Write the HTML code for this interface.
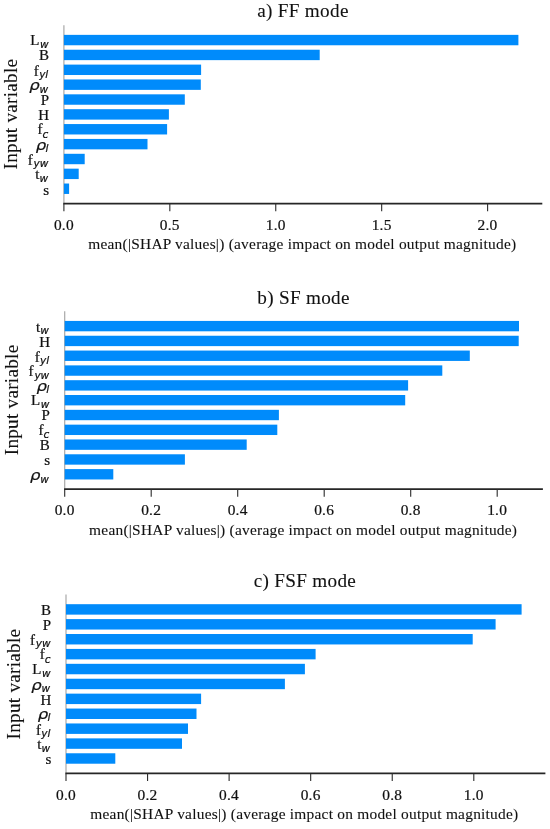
<!DOCTYPE html>
<html lang="en">
<head>
<meta charset="utf-8">
<title>SHAP feature importance</title>
<style>
html,body{margin:0;padding:0;background:#fff;}
svg{display:block;}
.s{font-family:"Liberation Serif", serif;fill:#111;stroke:#111;stroke-width:0.22px;}
.d{font-family:"DejaVu Sans", sans-serif;font-style:italic;fill:#111;stroke:#111;stroke-width:0.22px;}
.xl{stroke-width:0.1px;}
</style>
</head>
<body>
<svg width="550" height="829" viewBox="0 0 550 829">
<rect x="0" y="0" width="550" height="829" fill="#ffffff"/>
<g>
<text class="s xl" x="257.15" y="17.2" font-size="19.2" textLength="91.3" lengthAdjust="spacing">a) FF mode</text>
<line x1="63.90" y1="25.20" x2="63.90" y2="203.60" stroke="#a8a8a8" stroke-width="1.2"/>
<rect x="63.90" y="34.86" width="454.50" height="10.41" fill="#008bfb"/>
<text class="s" x="39.41" y="45.17" text-anchor="end" font-size="15">L</text>
<text class="d" x="48.60" y="48.27" text-anchor="end" font-size="10.5">w</text>
<rect x="63.90" y="49.73" width="255.80" height="10.41" fill="#008bfb"/>
<text class="s" x="48.90" y="60.33" text-anchor="end" font-size="15">B</text>
<rect x="63.90" y="64.60" width="137.20" height="10.41" fill="#008bfb"/>
<text class="s" x="38.86" y="75.90" text-anchor="end" font-size="15">f</text>
<text class="d" x="48.30" y="78.00" text-anchor="end" font-size="10.5">yl</text>
<rect x="63.90" y="79.46" width="136.90" height="10.41" fill="#008bfb"/>
<text class="d" transform="translate(39.61,90.47) scale(1,0.88)" text-anchor="end" font-size="16.5">ρ</text>
<text class="d" x="48.00" y="92.97" text-anchor="end" font-size="10.5">w</text>
<rect x="63.90" y="94.33" width="120.90" height="10.41" fill="#008bfb"/>
<text class="s" x="49.00" y="104.73" text-anchor="end" font-size="15">P</text>
<rect x="63.90" y="109.20" width="105.00" height="10.41" fill="#008bfb"/>
<text class="s" x="49.20" y="120.10" text-anchor="end" font-size="15">H</text>
<rect x="63.90" y="124.06" width="103.20" height="10.41" fill="#008bfb"/>
<text class="s" x="42.62" y="134.47" text-anchor="end" font-size="15">f</text>
<text class="d" x="48.40" y="137.87" text-anchor="end" font-size="10.5">c</text>
<rect x="63.90" y="138.93" width="83.60" height="10.41" fill="#008bfb"/>
<text class="d" transform="translate(46.18,149.83) scale(1,0.88)" text-anchor="end" font-size="16.5">ρ</text>
<text class="d" x="48.30" y="151.73" text-anchor="end" font-size="10.5">l</text>
<rect x="63.90" y="153.80" width="20.80" height="10.41" fill="#008bfb"/>
<text class="s" x="32.79" y="164.70" text-anchor="end" font-size="15">f</text>
<text class="d" x="48.40" y="167.20" text-anchor="end" font-size="10.5">yw</text>
<rect x="63.90" y="168.66" width="14.80" height="10.41" fill="#008bfb"/>
<text class="s" x="39.41" y="179.27" text-anchor="end" font-size="15">t</text>
<text class="d" x="48.10" y="182.07" text-anchor="end" font-size="10.5">w</text>
<rect x="63.90" y="183.53" width="5.20" height="10.41" fill="#008bfb"/>
<text class="s" x="49.20" y="194.63" text-anchor="end" font-size="15">s</text>
<line x1="63.30" y1="203.60" x2="542.30" y2="203.60" stroke="#262626" stroke-width="1.6"/>
<line x1="63.90" y1="203.60" x2="63.90" y2="211.30" stroke="#2b2b2b" stroke-width="1.1"/>
<text class="s" x="53.90" y="229.7" font-size="15.4" textLength="19.7" lengthAdjust="spacing">0.0</text>
<line x1="169.82" y1="203.60" x2="169.82" y2="211.30" stroke="#2b2b2b" stroke-width="1.1"/>
<text class="s" x="159.82" y="229.7" font-size="15.4" textLength="19.7" lengthAdjust="spacing">0.5</text>
<line x1="275.75" y1="203.60" x2="275.75" y2="211.30" stroke="#2b2b2b" stroke-width="1.1"/>
<text class="s" x="265.75" y="229.7" font-size="15.4" textLength="19.7" lengthAdjust="spacing">1.0</text>
<line x1="381.67" y1="203.60" x2="381.67" y2="211.30" stroke="#2b2b2b" stroke-width="1.1"/>
<text class="s" x="371.67" y="229.7" font-size="15.4" textLength="19.7" lengthAdjust="spacing">1.5</text>
<line x1="487.60" y1="203.60" x2="487.60" y2="211.30" stroke="#2b2b2b" stroke-width="1.1"/>
<text class="s" x="477.60" y="229.7" font-size="15.4" textLength="19.7" lengthAdjust="spacing">2.0</text>
<text class="s xl" x="88.2" y="249.2" font-size="15.4" textLength="427.9" lengthAdjust="spacing">mean(|SHAP values|) (average impact on model output magnitude)</text>
<text class="s xl" transform="translate(16.7,114.2) rotate(-90)" x="-55.25" y="0" font-size="19.2" textLength="110.5" lengthAdjust="spacing">Input variable</text>
</g>
<g>
<text class="s xl" x="257.25" y="303.6" font-size="19.2" textLength="92.3" lengthAdjust="spacing">b) SF mode</text>
<line x1="64.70" y1="311.30" x2="64.70" y2="489.10" stroke="#a8a8a8" stroke-width="1.2"/>
<rect x="64.70" y="320.93" width="454.30" height="10.37" fill="#008bfb"/>
<text class="s" x="40.21" y="331.52" text-anchor="end" font-size="15">t</text>
<text class="d" x="48.90" y="334.32" text-anchor="end" font-size="10.5">w</text>
<rect x="64.70" y="335.75" width="454.00" height="10.37" fill="#008bfb"/>
<text class="s" x="50.00" y="346.63" text-anchor="end" font-size="15">H</text>
<rect x="64.70" y="350.56" width="405.10" height="10.37" fill="#008bfb"/>
<text class="s" x="39.66" y="361.85" text-anchor="end" font-size="15">f</text>
<text class="d" x="49.10" y="363.95" text-anchor="end" font-size="10.5">yl</text>
<rect x="64.70" y="365.38" width="377.60" height="10.37" fill="#008bfb"/>
<text class="s" x="33.59" y="376.27" text-anchor="end" font-size="15">f</text>
<text class="d" x="49.20" y="378.77" text-anchor="end" font-size="10.5">yw</text>
<rect x="64.70" y="380.20" width="343.40" height="10.37" fill="#008bfb"/>
<text class="d" transform="translate(46.98,391.08) scale(1,0.88)" text-anchor="end" font-size="16.5">ρ</text>
<text class="d" x="49.10" y="392.98" text-anchor="end" font-size="10.5">l</text>
<rect x="64.70" y="395.01" width="340.50" height="10.37" fill="#008bfb"/>
<text class="s" x="40.21" y="405.30" text-anchor="end" font-size="15">L</text>
<text class="d" x="49.40" y="408.40" text-anchor="end" font-size="10.5">w</text>
<rect x="64.70" y="409.83" width="214.20" height="10.37" fill="#008bfb"/>
<text class="s" x="49.80" y="420.22" text-anchor="end" font-size="15">P</text>
<rect x="64.70" y="424.65" width="212.60" height="10.37" fill="#008bfb"/>
<text class="s" x="43.42" y="435.03" text-anchor="end" font-size="15">f</text>
<text class="d" x="49.20" y="438.43" text-anchor="end" font-size="10.5">c</text>
<rect x="64.70" y="439.46" width="182.00" height="10.37" fill="#008bfb"/>
<text class="s" x="49.70" y="450.05" text-anchor="end" font-size="15">B</text>
<rect x="64.70" y="454.28" width="120.20" height="10.37" fill="#008bfb"/>
<text class="s" x="50.00" y="465.37" text-anchor="end" font-size="15">s</text>
<rect x="64.70" y="469.10" width="48.60" height="10.37" fill="#008bfb"/>
<text class="d" transform="translate(40.41,480.08) scale(1,0.88)" text-anchor="end" font-size="16.5">ρ</text>
<text class="d" x="48.80" y="482.58" text-anchor="end" font-size="10.5">w</text>
<line x1="64.10" y1="489.10" x2="542.90" y2="489.10" stroke="#262626" stroke-width="1.6"/>
<line x1="64.70" y1="489.10" x2="64.70" y2="496.80" stroke="#2b2b2b" stroke-width="1.1"/>
<text class="s" x="54.70" y="515.3" font-size="15.4" textLength="19.7" lengthAdjust="spacing">0.0</text>
<line x1="151.20" y1="489.10" x2="151.20" y2="496.80" stroke="#2b2b2b" stroke-width="1.1"/>
<text class="s" x="141.20" y="515.3" font-size="15.4" textLength="19.7" lengthAdjust="spacing">0.2</text>
<line x1="237.70" y1="489.10" x2="237.70" y2="496.80" stroke="#2b2b2b" stroke-width="1.1"/>
<text class="s" x="227.70" y="515.3" font-size="15.4" textLength="19.7" lengthAdjust="spacing">0.4</text>
<line x1="324.20" y1="489.10" x2="324.20" y2="496.80" stroke="#2b2b2b" stroke-width="1.1"/>
<text class="s" x="314.20" y="515.3" font-size="15.4" textLength="19.7" lengthAdjust="spacing">0.6</text>
<line x1="410.70" y1="489.10" x2="410.70" y2="496.80" stroke="#2b2b2b" stroke-width="1.1"/>
<text class="s" x="400.70" y="515.3" font-size="15.4" textLength="19.7" lengthAdjust="spacing">0.8</text>
<line x1="497.20" y1="489.10" x2="497.20" y2="496.80" stroke="#2b2b2b" stroke-width="1.1"/>
<text class="s" x="487.20" y="515.3" font-size="15.4" textLength="19.7" lengthAdjust="spacing">1.0</text>
<text class="s xl" x="89.1" y="535.0" font-size="15.4" textLength="427.9" lengthAdjust="spacing">mean(|SHAP values|) (average impact on model output magnitude)</text>
<text class="s xl" transform="translate(18.4,400) rotate(-90)" x="-55.25" y="0" font-size="19.2" textLength="110.5" lengthAdjust="spacing">Input variable</text>
</g>
<g>
<text class="s xl" x="253.70" y="587.0" font-size="19.2" textLength="102.2" lengthAdjust="spacing">c) FSF mode</text>
<line x1="66.00" y1="594.50" x2="66.00" y2="773.40" stroke="#a8a8a8" stroke-width="1.2"/>
<rect x="66.00" y="604.19" width="455.60" height="10.44" fill="#008bfb"/>
<text class="s" x="51.00" y="614.81" text-anchor="end" font-size="15">B</text>
<rect x="66.00" y="619.10" width="429.60" height="10.44" fill="#008bfb"/>
<text class="s" x="51.10" y="629.52" text-anchor="end" font-size="15">P</text>
<rect x="66.00" y="634.01" width="406.70" height="10.44" fill="#008bfb"/>
<text class="s" x="34.89" y="644.92" text-anchor="end" font-size="15">f</text>
<text class="d" x="50.50" y="647.42" text-anchor="end" font-size="10.5">yw</text>
<rect x="66.00" y="648.92" width="249.60" height="10.44" fill="#008bfb"/>
<text class="s" x="44.72" y="659.33" text-anchor="end" font-size="15">f</text>
<text class="d" x="50.50" y="662.73" text-anchor="end" font-size="10.5">c</text>
<rect x="66.00" y="663.82" width="238.90" height="10.44" fill="#008bfb"/>
<text class="s" x="41.51" y="674.14" text-anchor="end" font-size="15">L</text>
<text class="d" x="50.70" y="677.24" text-anchor="end" font-size="10.5">w</text>
<rect x="66.00" y="678.73" width="218.90" height="10.44" fill="#008bfb"/>
<text class="d" transform="translate(41.71,689.75) scale(1,0.88)" text-anchor="end" font-size="16.5">ρ</text>
<text class="d" x="50.10" y="692.25" text-anchor="end" font-size="10.5">w</text>
<rect x="66.00" y="693.64" width="135.10" height="10.44" fill="#008bfb"/>
<text class="s" x="51.30" y="704.56" text-anchor="end" font-size="15">H</text>
<rect x="66.00" y="708.55" width="130.50" height="10.44" fill="#008bfb"/>
<text class="d" transform="translate(48.28,719.47) scale(1,0.88)" text-anchor="end" font-size="16.5">ρ</text>
<text class="d" x="50.40" y="721.37" text-anchor="end" font-size="10.5">l</text>
<rect x="66.00" y="723.46" width="122.00" height="10.44" fill="#008bfb"/>
<text class="s" x="40.96" y="734.77" text-anchor="end" font-size="15">f</text>
<text class="d" x="50.40" y="736.87" text-anchor="end" font-size="10.5">yl</text>
<rect x="66.00" y="738.37" width="116.00" height="10.44" fill="#008bfb"/>
<text class="s" x="41.51" y="748.98" text-anchor="end" font-size="15">t</text>
<text class="d" x="50.20" y="751.78" text-anchor="end" font-size="10.5">w</text>
<rect x="66.00" y="753.27" width="49.30" height="10.44" fill="#008bfb"/>
<text class="s" x="51.30" y="764.39" text-anchor="end" font-size="15">s</text>
<line x1="65.40" y1="773.40" x2="545.40" y2="773.40" stroke="#262626" stroke-width="1.6"/>
<line x1="66.00" y1="773.40" x2="66.00" y2="781.10" stroke="#2b2b2b" stroke-width="1.1"/>
<text class="s" x="56.00" y="799.5" font-size="15.4" textLength="19.7" lengthAdjust="spacing">0.0</text>
<line x1="147.56" y1="773.40" x2="147.56" y2="781.10" stroke="#2b2b2b" stroke-width="1.1"/>
<text class="s" x="137.56" y="799.5" font-size="15.4" textLength="19.7" lengthAdjust="spacing">0.2</text>
<line x1="229.12" y1="773.40" x2="229.12" y2="781.10" stroke="#2b2b2b" stroke-width="1.1"/>
<text class="s" x="219.12" y="799.5" font-size="15.4" textLength="19.7" lengthAdjust="spacing">0.4</text>
<line x1="310.68" y1="773.40" x2="310.68" y2="781.10" stroke="#2b2b2b" stroke-width="1.1"/>
<text class="s" x="300.68" y="799.5" font-size="15.4" textLength="19.7" lengthAdjust="spacing">0.6</text>
<line x1="392.24" y1="773.40" x2="392.24" y2="781.10" stroke="#2b2b2b" stroke-width="1.1"/>
<text class="s" x="382.24" y="799.5" font-size="15.4" textLength="19.7" lengthAdjust="spacing">0.8</text>
<line x1="473.80" y1="773.40" x2="473.80" y2="781.10" stroke="#2b2b2b" stroke-width="1.1"/>
<text class="s" x="463.80" y="799.5" font-size="15.4" textLength="19.7" lengthAdjust="spacing">1.0</text>
<text class="s xl" x="90.3" y="819.0" font-size="15.4" textLength="427.9" lengthAdjust="spacing">mean(|SHAP values|) (average impact on model output magnitude)</text>
<text class="s xl" transform="translate(19.6,684.2) rotate(-90)" x="-55.25" y="0" font-size="19.2" textLength="110.5" lengthAdjust="spacing">Input variable</text>
</g>
</svg>
</body>
</html>
